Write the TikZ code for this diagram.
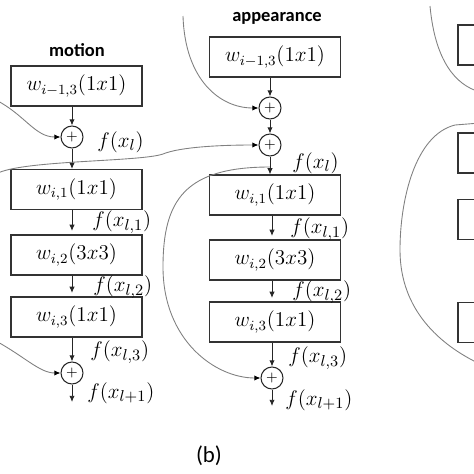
\documentclass[tikz,border=0pt]{standalone}
\usepackage{amsmath, amssymb}
\usepackage{fontspec}
\setsansfont{Carlito}
\usetikzlibrary{arrows.meta}

\begin{document}
\begin{tikzpicture}[x=0.02cm, y=-0.02cm,
    layer/.style={draw=black!80, line width=0.7pt, minimum width=2.62cm, minimum height=0.8cm, inner sep=0pt, font=\fontsize{12}{14}\selectfont},
    sumnode/.style={draw=black!85, circle, line width=0.6pt, minimum size=0.44cm, inner sep=0pt, font=\footnotesize},
    flow/.style={-{Latex[length=3.5pt,width=3pt]}, line width=0.5pt, draw=black!85},
    skip/.style={-{Latex[length=3.5pt,width=3pt,color=black]}, line width=0.5pt, draw=black!50},
    lbl/.style={anchor=west, inner sep=0pt, font=\fontsize{12.5}{14}\selectfont},
    title/.style={font=\sffamily\bfseries\fontsize{10.5}{12}\selectfont}]
    \useasboundingbox (0,0) rectangle (474,474);
    \clip (0,0) rectangle (474,474);

    % motion
    \node[title] (mtitle) at (77,50) {motion};
    \node[layer] (m0) at (76.5,86) {$w_{i-1,3}(1x1)$};
    \node[sumnode] (mp1) at (72,137) {\raisebox{1pt}{$+$}};
    \node[layer] (m1) at (76.5,189.5) {$w_{i,1}(1x1)$};
    \node[layer] (m2) at (76.5,255) {$w_{i,2}(3x3)$};
    \node[layer] (m3) at (76.5,317) {$w_{i,3}(1x1)$};
    \node[sumnode] (mp2) at (72,373) {\raisebox{1pt}{$+$}};
    \coordinate (mout) at (72,402);

    \draw[flow] (m0.south -| mp1) -- (mp1.north);
    \draw[flow] (mp1.south) -- (m1.north -| mp1);
    \draw[flow] (m1.south -| mp1) -- ([yshift=2]m2.north -| mp1);
    \draw[flow] (m2.south -| mp1) -- ([yshift=2]m3.north -| mp1);
    \draw[flow] (m3.south -| mp2) -- (mp2.north);
    \draw[flow] (mp2.south) -- (mout);

    \node[lbl] (mf0) at (97,142) {$f(x_l)$};
    \node[lbl] (mf1) at (92,222) {$f(x_{l,1})$};
    \node[lbl] (mf2) at (93,287) {$f(x_{l,2})$};
    \node[lbl] (mf3) at (90,352) {$f(x_{l,3})$};
    \node[lbl] (mf4) at (87,393) {$f(x_{l+1})$};

    % appearance
    \node[title] (atitle) at (277,18) {appearance};
    \node[layer] (a0) at (275,57) {$w_{i-1,3}(1x1)$};
    \node[sumnode] (ap1) at (270,108) {\raisebox{1pt}{$+$}};
    \node[sumnode] (ap2) at (270,145) {\raisebox{1pt}{$+$}};
    \node[layer] (a1) at (275,195) {$w_{i,1}(1x1)$};
    \node[layer] (a2) at (275,260) {$w_{i,2}(3x3)$};
    \node[layer] (a3) at (275,322) {$w_{i,3}(1x1)$};
    \node[sumnode] (ap3) at (272,378) {\raisebox{1pt}{$+$}};
    \coordinate (aout) at (272,406);
    \coordinate (atap) at (270,167);

    \draw[flow] (a0.south -| ap1) -- (ap1.north);
    \draw[flow] (ap1.south) -- (ap2.north);
    \draw[flow] (ap2.south) -- (a1.north -| ap2);
    \draw[flow] (a1.south -| ap3) -- ([yshift=2]a2.north -| ap3);
    \draw[flow] (a2.south -| ap3) -- ([yshift=2]a3.north -| ap3);
    \draw[flow] (a3.south -| ap3) -- (ap3.north);
    \draw[flow] (ap3.south) -- (aout);

    \node[lbl] (af0) at (292,163) {$f(x_l)$};
    \node[lbl] (af1) at (290,229) {$f(x_{l,1})$};
    \node[lbl] (af2) at (292,292) {$f(x_{l,2})$};
    \node[lbl] (af3) at (288,358) {$f(x_{l,3})$};
    \node[lbl] (af4) at (285,400) {$f(x_{l+1})$};

    % third stream, cut off
    \node[layer] (r0) at (523.5,45) {};
    \node[layer] (r1) at (523.5,153) {};
    \node[layer] (r2) at (523.5,219.5) {};
    \node[layer] (r3) at (523.5,322.5) {};

    % skip connections
    \coordinate (s1) at (-4,100);
    \coordinate (s2) at (-4,341);
    \coordinate (s3) at (-4,174);
    \coordinate (s4) at (183,16);
    \draw[skip] (s1) .. controls (25,115) and (35,137) .. (mp1.west);
    \draw[skip] (s2) .. controls (25,357) and (40,373) .. (mp2.west);
    \draw[skip] (s3) .. controls (20,160) and (140,162) .. (163,154)
        .. controls (180,147) and (220,145) .. (ap2.west);
    \draw[skip] (s4) .. controls (185,80) and (220,108) .. (ap1.west);
    \draw[skip] (atap) .. controls (185,167) and (163,200) .. (163,267)
        .. controls (163,340) and (215,378) .. (ap3.west);
    \draw[draw=black!50, line width=0.5pt] (430,6) .. controls (435,60) and (455,85) .. (480,92);
    \draw[draw=black!50, line width=0.5pt] (480,123) -- (455,125)
        .. controls (415,135) and (400,200) .. (400,250)
        .. controls (400,310) and (440,345) .. (480,364);

    \node[font=\sffamily\fontsize{13}{15}\selectfont] (cap) at (209,456) {(b)};
\end{tikzpicture}
\end{document}
